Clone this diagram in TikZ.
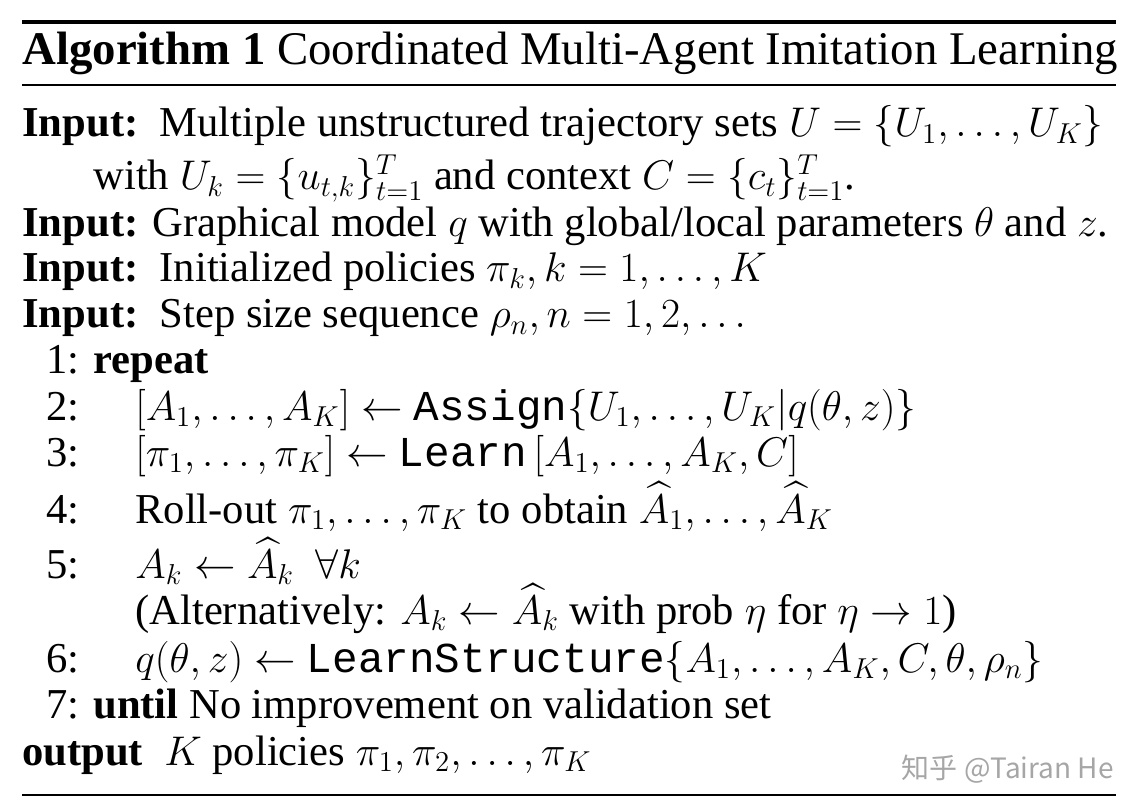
\documentclass[tikz,border=0pt]{standalone}
\usepackage{amsmath,amssymb}
\usepackage{fontspec}
\setmainfont{Liberation Serif}
\setmonofont{Liberation Mono}
\newfontfamily\cjk{Noto Sans CJK SC}
\begin{document}
\begin{tikzpicture}[x=0.5pt,y=-0.5pt,
  ln/.style={anchor=base west,inner sep=0pt,font=\fontsize{21.3}{24}\selectfont},
  num/.style={anchor=base east,inner sep=0pt,font=\fontsize{21.3}{24}\selectfont}]
\useasboundingbox (0,0) rectangle (1144,812);
\draw[line width=1.6pt] (22,22) -- (1116,22);
\draw[line width=0.6pt] (22,85) -- (1116,85);
\draw[line width=0.6pt] (22,795) -- (1116,795);
\node[ln,font=\fontsize{23.4}{26}\selectfont] (t) at (22,65) {\textbf{Algorithm 1} Coordinated Multi-Agent Imitation Learning};
\node[ln] (i1) at (22,137) {\textbf{Input:}\, Multiple unstructured trajectory sets $U=\{U_1,\ldots,U_K\}$};
\node[ln] (i1b) at (93,190) {with $U_k=\{u_{t,k}\}_{t=1}^T$ and context $C=\{c_t\}_{t=1}^T$.};
\node[ln] (i2) at (22,237) {\textbf{Input:} Graphical model $q$ with global/local parameters $\theta$ and $z$.};
\node[ln] (i3) at (22,282) {\textbf{Input:}\, Initialized policies $\pi_k, k=1,\ldots,K$};
\node[ln] (i4) at (22,328) {\textbf{Input:}\, Step size sequence $\rho_n, n=1,2,\ldots$};
\node[num] (n1) at (80,373) {1:};
\node[ln] (l1) at (93,373) {\textbf{repeat}};
\node[num] (n2) at (80,420) {2:};
\node[ln] (l2) at (135,420) {$[A_1,\ldots,A_K]\leftarrow$ \texttt{Assign}$\{U_1,\ldots,U_K|q(\theta,z)\}$};
\node[num] (n3) at (80,466) {3:};
\node[ln] (l3) at (135,466) {$[\pi_1,\ldots,\pi_K]\leftarrow$ \texttt{Learn}$\,[A_1,\ldots,A_K,C]$};
\node[num] (n4) at (80,523) {4:};
\node[ln] (l4) at (135,523) {Roll-out $\pi_1,\ldots,\pi_K$ to obtain $\widehat{A}_1,\ldots,\widehat{A}_K$};
\node[num] (n5) at (80,578) {5:};
\node[ln] (l5) at (135,578) {$A_k\leftarrow\widehat{A}_k\ \ \forall k$};
\node[ln] (l5b) at (135,624) {(Alternatively: $A_k\leftarrow\widehat{A}_k$ with prob $\eta$ for $\eta\rightarrow1$)};
\node[num] (n6) at (80,672) {6:};
\node[ln] (l6) at (135,672) {$q(\theta,z)\leftarrow$ \texttt{LearnStructure}$\{A_1,\ldots,A_K,C,\theta,\rho_n\}$};
\node[num] (n7) at (80,718) {7:};
\node[ln] (l7) at (93,718) {\textbf{until} No improvement on validation set};
\node[ln] (o) at (22,765) {\textbf{output}\ \ $K$ policies $\pi_1,\pi_2,\ldots,\pi_K$};
\node[anchor=base east,inner sep=0pt,text=black!35,font=\cjk\fontsize{14}{16}\selectfont] (w) at (1114,778) {知乎 @Tairan He};
\end{tikzpicture}
\end{document}
